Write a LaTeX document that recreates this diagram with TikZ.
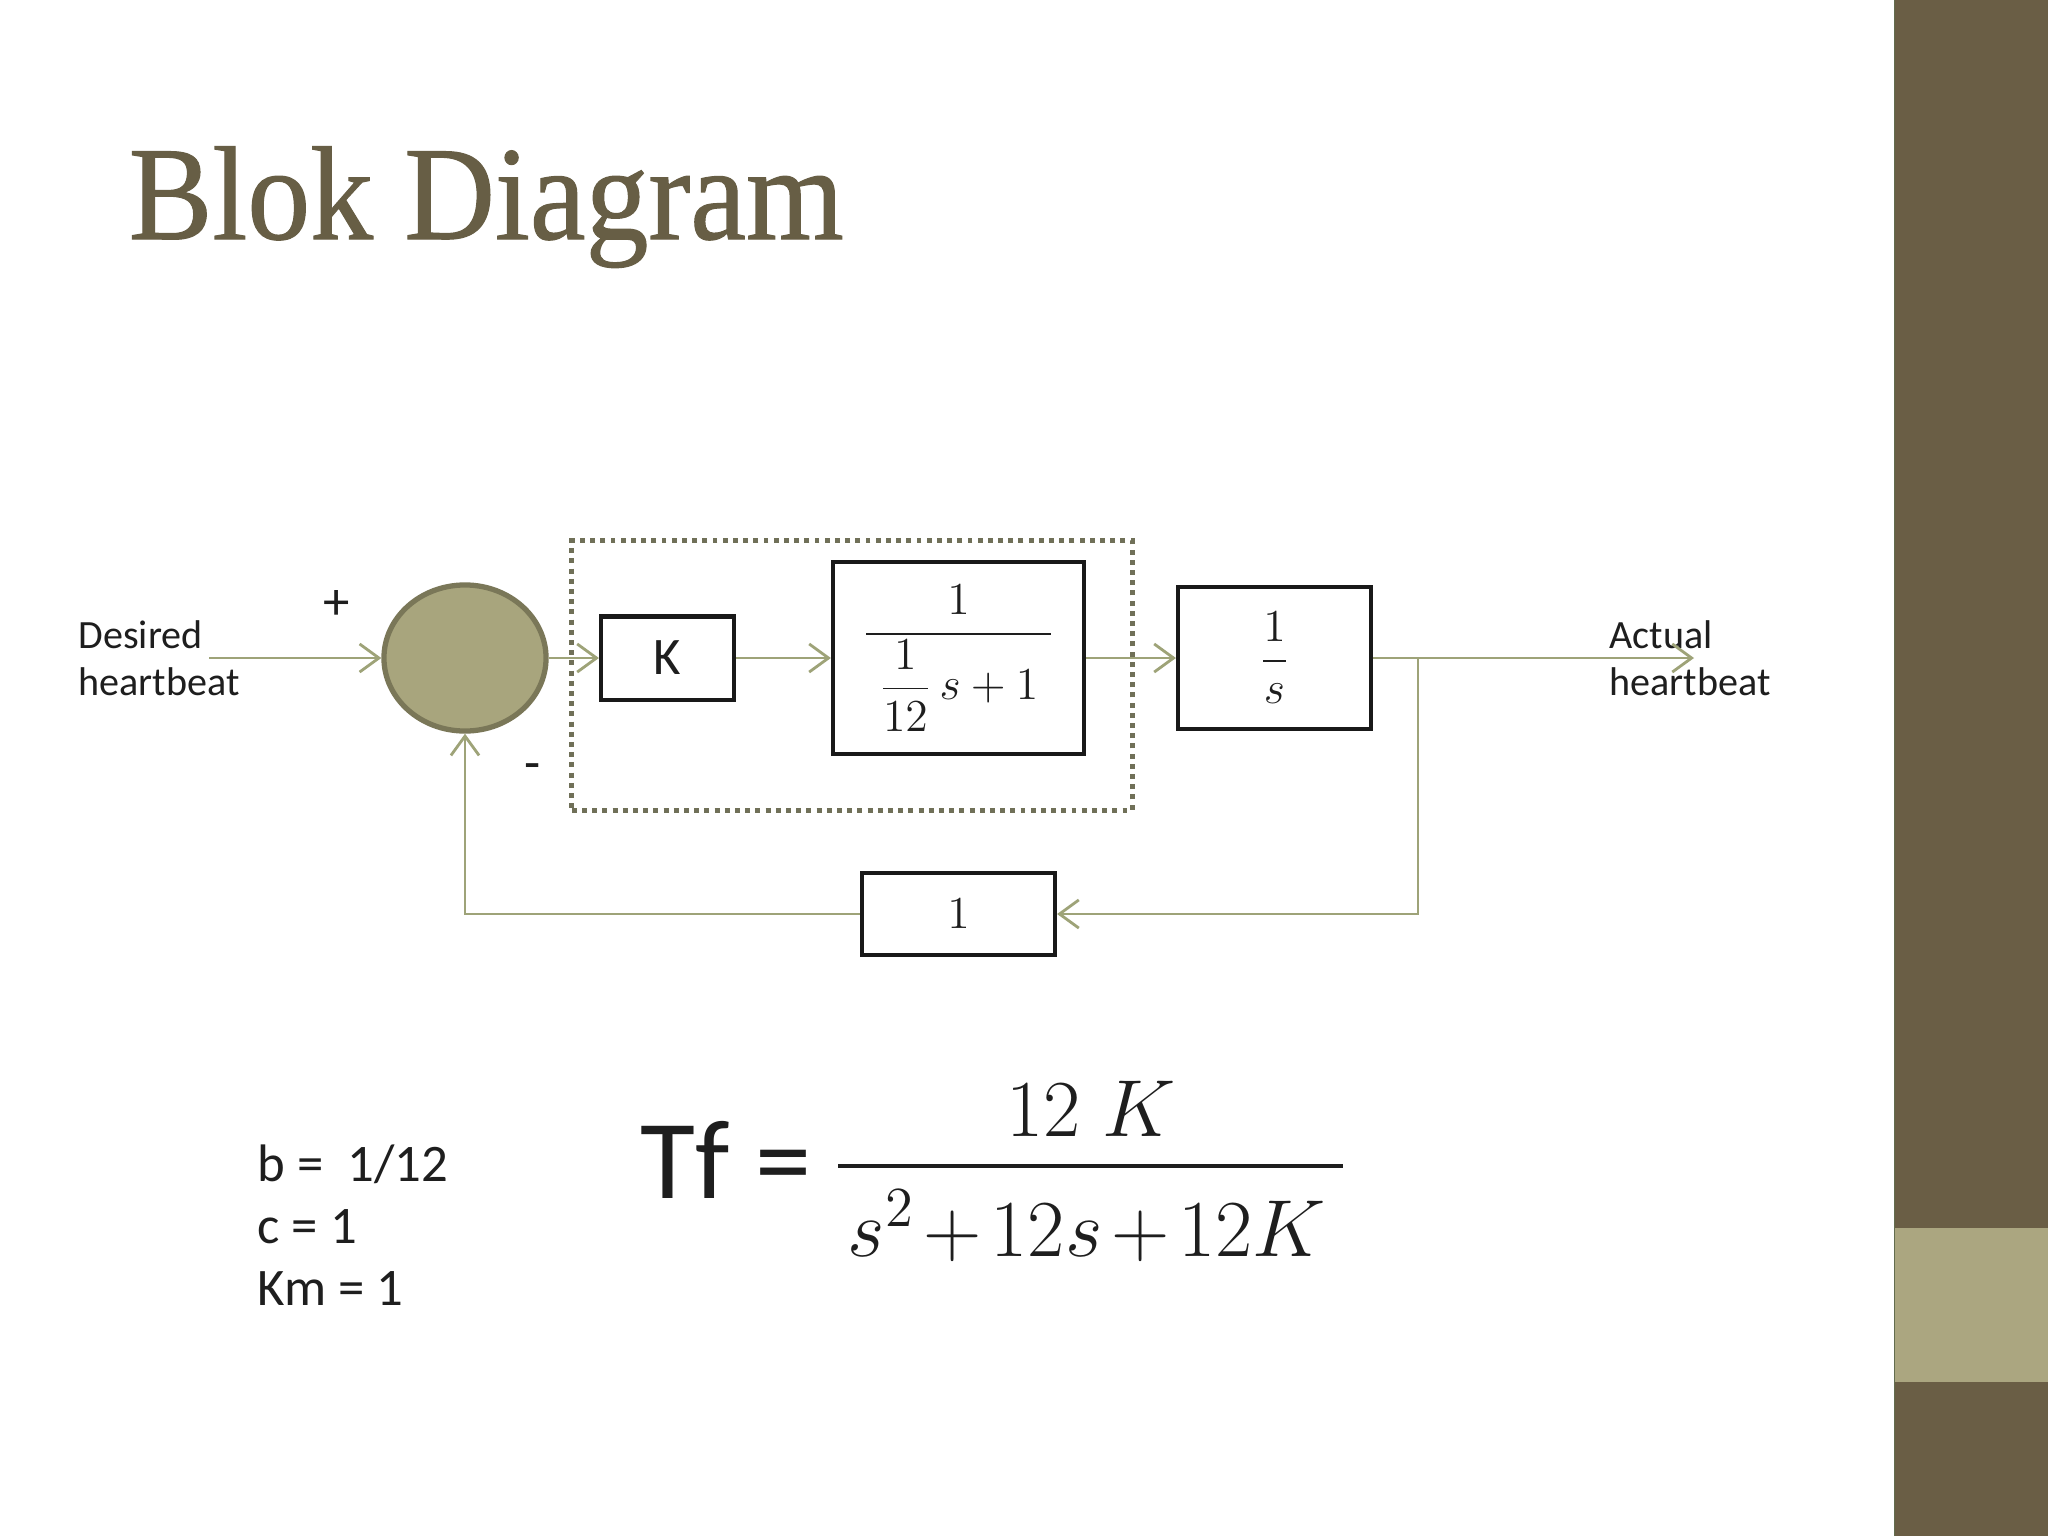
\RequirePackage{fix-cm}
\documentclass[tikz,border=0pt]{standalone}
\usepackage{amsmath}
\usepackage[no-math]{fontspec}
\setmainfont{Carlito}
\newfontfamily\titlefont[FakeStretch=0.94,FakeBold=0.8]{Liberation Serif}
\usetikzlibrary{arrows.meta,shapes.geometric}
\definecolor{conncol}{RGB}{158,163,120}
\definecolor{sumfill}{RGB}{168,165,125}
\definecolor{sumdraw}{RGB}{122,119,88}
\definecolor{dotcol}{RGB}{112,112,88}
\definecolor{titlecol}{RGB}{103,94,69}
\definecolor{bardark}{RGB}{106,94,69}
\definecolor{barlight}{RGB}{171,166,128}
\definecolor{baredge}{RGB}{98,108,78}
\definecolor{txt}{RGB}{30,30,30}
\pgfdeclareradialshading{vignette}{\pgfpoint{0bp}{0bp}}{color(0bp)=(white); color(33bp)=(white); color(50bp)=(black!17)}
\begin{document}
\begin{tikzpicture}[x=0.01cm,y=-0.01cm,
  conn/.style={draw=conncol, line width=0.8pt, -{Straight Barb[length=5.5pt,width=8pt]}},
  blockbox/.style={rectangle, draw=black!90, line width=1.15pt, fill=white, inner sep=0pt, text=txt},
  lbl/.style={text=txt, inner sep=0pt, align=left, font=\fontsize{11.4}{13.4}\selectfont},
  sign/.style={text=txt, inner sep=0pt, font=\fontsize{15}{18}\selectfont},
  blockmath/.style={font=\fontsize{13}{16}\selectfont},
  dotbox/.style={rectangle, draw=dotcol, line width=1.4pt, dash pattern=on 1.4pt off 1.5pt, inner sep=0pt}
]
\useasboundingbox (0,0) rectangle (2048,1536);
% background with soft vignette
\begin{scope}
  \clip (0,0) rectangle (1894,1536);
  \fill[white] (0,0) rectangle (1894,1536);
  \shade[shading=vignette] (-393,-318) rectangle (2287,1854);
\end{scope}
% right side bar
\fill[bardark] (1894,0) rectangle (2048,1536);
\fill[barlight] (1894,1228) rectangle (2048,1382);
\draw[baredge, line width=0.5pt] (1894.5,0) -- (1894.5,1536);

% title
\node[anchor=base west, inner sep=0pt, text=titlecol, font=\titlefont\fontsize{38}{44}\selectfont] (title) at (128,239) {Blok Diagram};

% grouping dotted box
\node[dotbox, minimum width=5.6cm, minimum height=2.69cm] (grp) at (852,675.5) {};

% blocks
\node[ellipse, draw=sumdraw, fill=sumfill, line width=1.5pt, minimum width=1.62cm, minimum height=1.46cm, inner sep=0pt] (sum) at (465,658) {};
\node[blockbox, minimum width=1.33cm, minimum height=0.83cm, font=\fontsize{15}{18}\selectfont] (K) at (667.5,658) {K};
\node[blockbox, blockmath, minimum width=2.51cm, minimum height=1.92cm] (G) at (958.5,658) {$\dfrac{1}{\;\dfrac{1}{12}\,s+1\;}$};
\node[blockbox, blockmath, minimum width=1.93cm, minimum height=1.41cm] (I) at (1274.5,658) {$\dfrac{1}{s}$};
\node[blockbox, blockmath, minimum width=1.93cm, minimum height=0.82cm] (H) at (958.5,914) {$1$};

% labels
\node[lbl, anchor=west] (din) at (78,658) {Desired\\heartbeat};
\node[lbl, anchor=west] (dout) at (1609,658) {Actual\\heartbeat};
\node[sign] (plus) at (337,605) {+};
\node[sign] (minus) at (533,772) {-};

% connectors
\coordinate (in) at (209,658);
\coordinate (out) at (1694,658);
\coordinate (br) at (1418,658);
\draw[conn] (in) -- (sum.west);
\draw[conn] (sum.east) -- (K.west);
\draw[conn] (K.east) -- (G.west);
\draw[conn] (G.east) -- (I.west);
\draw[conn] (I.east) -- (out);
\draw[conn] (br) |- (H.east);
\draw[conn] (H.west) -| (sum.south);

% parameters
\node[text=txt, inner sep=0pt, align=left, anchor=west, font=\fontsize{15}{17.6}\selectfont] (params) at (257,1225) {b =\ \ 1/12\\c = 1\\Km = 1};

% transfer function
\node[anchor=base west, inner sep=0pt, text=txt, font=\fontsize{32}{38}\selectfont] (tf) at (640,1198) {Tf =};
\node[anchor=base, inner sep=0pt, text=txt, font=\fontsize{23}{28}\selectfont] (num) at (1091,1136) {$12\;K$};
\draw[txt, line width=1.4pt] (838,1166) -- (1343,1166);
\node[anchor=base, inner sep=0pt, text=txt, font=\fontsize{23}{28}\selectfont] (den) at (1087,1256) {$s^{2}\mkern-2mu+\mkern-2mu12s\mkern-2mu+\mkern-2mu12K$};
\end{tikzpicture}
\end{document}
